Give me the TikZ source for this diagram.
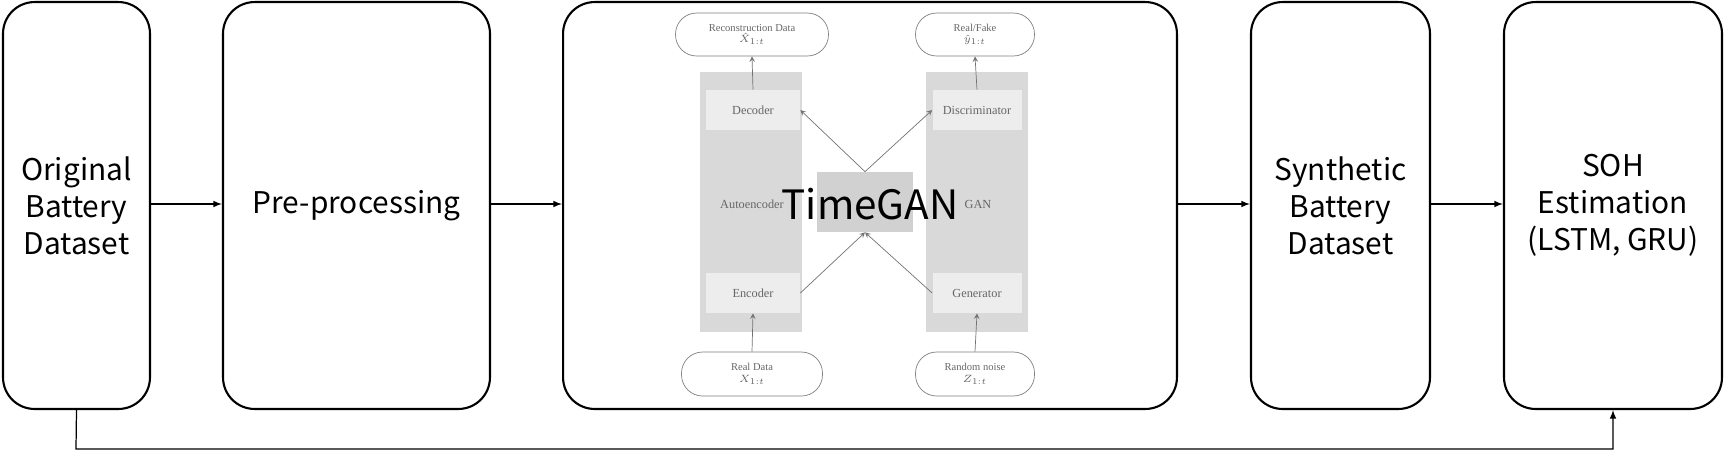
\documentclass[tikz,border=0pt]{standalone}
\usepackage{fontspec}
\setmainfont{Liberation Serif}
\newfontfamily\kr{Noto Sans CJK KR}
\begin{document}
\begin{tikzpicture}[x=0.02cm,y=-0.02cm,
 big/.style={draw,line width=1.2pt,rounded corners=18pt,align=center,inner sep=0pt,font=\kr\fontsize{17}{21}\selectfont},
 arr/.style={-latex,line width=0.7pt},
 inner/.style={fill=black!7,draw=none,inner sep=0pt,font=\fontsize{7}{8}\selectfont,text=black!60},
 oval/.style={draw=black!50,rounded corners=12pt,align=center,inner sep=0pt,font=\fontsize{6}{6.5}\selectfont,text=black!60},
 thin/.style={-stealth,draw=black!55,line width=0.4pt}]
\useasboundingbox (0,0) rectangle (1725,458);
\node[big,minimum width=2.94cm,minimum height=8.14cm] (orig) at (76.5,205.5) {Original\\Battery\\Dataset};
\node[big,minimum width=5.34cm,minimum height=8.14cm] (pre) at (356.5,205.5) {Pre-processing};
\node[big,minimum width=12.28cm,minimum height=8.14cm] (tg) at (870,205.5) {};
\node[big,minimum width=3.58cm,minimum height=8.14cm] (syn) at (1340.5,205.5) {Synthetic\\Battery\\Dataset};
\node[big,minimum width=4.36cm,minimum height=8.14cm] (soh) at (1613,205.5) {SOH\\Estimation\\(LSTM, GRU)};
% inner
\fill[black!15] (700,72) rectangle (802,332);
\fill[black!15] (926,72) rectangle (1028,332);
\node[inner,minimum width=1.88cm,minimum height=0.8cm] (dec) at (753,110) {Decoder};
\node[inner,minimum width=1.88cm,minimum height=0.8cm] (enc) at (753,293) {Encoder};
\node[inner,minimum width=1.78cm,minimum height=0.8cm] (dis) at (977,110) {Discriminator};
\node[inner,minimum width=1.78cm,minimum height=0.8cm] (gen) at (977,293) {Generator};
\node[font=\fontsize{7}{8}\selectfont,text=black!60] at (752,204) {Autoencoder};
\node[font=\fontsize{7}{8}\selectfont,text=black!60] at (978,204) {GAN};
\node[fill=black!18,minimum width=1.92cm,minimum height=1.2cm] (c) at (865,202) {};
\node[font=\kr\fontsize{23}{26}\selectfont] at (870,204) {TimeGAN};
\node[oval,minimum width=3.06cm,minimum height=0.86cm] (rec) at (752,34.5) {Reconstruction Data\\$\hat{X}_{1:t}$};
\node[oval,minimum width=2.38cm,minimum height=0.86cm] (rf) at (975,34.5) {Real/Fake\\$\hat{y}_{1:t}$};
\node[oval,minimum width=2.82cm,minimum height=0.88cm] (rd) at (752,374) {Real Data\\$X_{1:t}$};
\node[oval,minimum width=2.38cm,minimum height=0.88cm] (rn) at (975,374) {Random noise\\$Z_{1:t}$};
\draw[thin] (dec.north) -- (rec.south);
\draw[thin] (dis.north) -- (rf.south);
\draw[thin] (rd.north) -- (enc.south);
\draw[thin] (rn.north) -- (gen.south);
\draw[thin] (c.north) -- (dec.east);
\draw[thin] (c.north) -- (dis.west);
\draw[thin] (enc.east) -- (c.south);
\draw[thin] (gen.west) -- (c.south);
% main arrows
\draw[arr] (orig.east |- 0,204) -- (pre.west |- 0,204);
\draw[arr] (pre.east |- 0,204) -- (tg.west |- 0,204);
\draw[arr] (tg.east |- 0,204) -- (syn.west |- 0,204);
\draw[arr] (syn.east |- 0,204) -- (soh.west |- 0,204);
\coordinate (b) at (76,449);
\draw[arr] (orig.south) -- (b) -- (b -| soh.south) -- (soh.south);
\end{tikzpicture}
\end{document}
